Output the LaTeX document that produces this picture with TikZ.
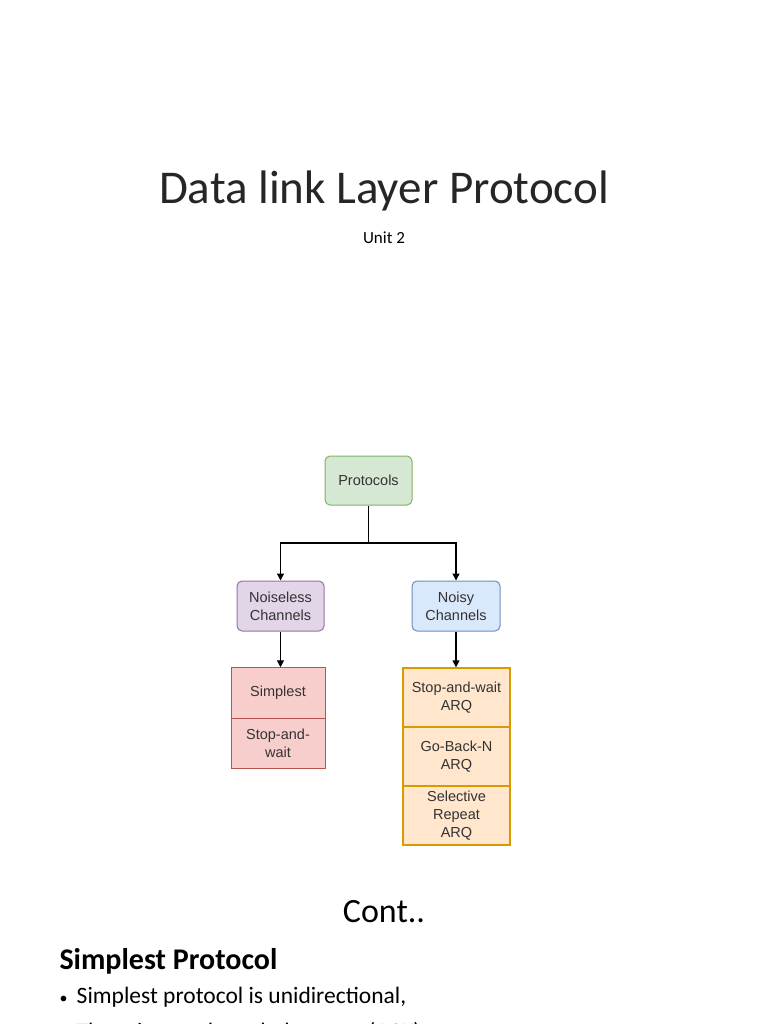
\documentclass[tikz,border=0pt]{standalone}
\usepackage{fontspec}
\setmainfont{Carlito}
\newfontfamily\arialf{Liberation Sans}
\usetikzlibrary{arrows.meta}
\begin{document}
\begin{tikzpicture}[x=1pt,y=-1pt,
  box/.style={draw, line width=1pt, align=center, font=\arialf\fontsize{14.5}{18}\selectfont, text=black!80, inner sep=0pt},
  rbox/.style={box, rounded corners=5pt},
  conn/.style={line width=1.3pt, -{Triangle[length=7pt,width=7pt]}}]
\useasboundingbox (0,0) rectangle (768,1024);
\fill[white] (0,0) rectangle (768,1024);
\node[font=\fontsize{47}{54}\selectfont, text=black!85] (title) at (384,191) {Data link Layer Protocol};
\node[font=\fontsize{17}{20}\selectfont] (unit) at (384,238) {Unit 2};
\node[rbox, fill={rgb,255:red,213;green,232;blue,212}, draw={rgb,255:red,130;green,179;blue,102}, minimum width=87pt, minimum height=49pt] (prot) at (368.5,480.5) {Protocols};
\node[rbox, fill={rgb,255:red,225;green,213;blue,231}, draw={rgb,255:red,150;green,115;blue,166}, minimum width=87pt, minimum height=50pt] (nl) at (280.5,606) {Noiseless\\Channels};
\node[rbox, fill={rgb,255:red,218;green,232;blue,252}, draw={rgb,255:red,108;green,142;blue,191}, minimum width=88pt, minimum height=50pt] (ny) at (456,606) {Noisy\\Channels};
\tikzset{red/.style={box, fill={rgb,255:red,248;green,206;blue,204}, draw={rgb,255:red,184;green,84;blue,80}, minimum width=94pt, minimum height=50.5pt},
 org/.style={box, fill={rgb,255:red,255;green,230;blue,204}, draw={rgb,255:red,215;green,155;blue,0}, line width=1.3pt, minimum width=107pt, minimum height=59pt}}
\node[red] (s1) at (278,693) {Simplest};
\node[red] (s2) at (278,743.5) {Stop-and-\\wait};
\node[org] (o1) at (456.5,697.5) {Stop-and-wait\\ARQ};
\node[org] (o2) at (456.5,756.5) {Go-Back-N\\ARQ};
\node[org] (o3) at (456.5,815.5) {Selective\\Repeat\\ARQ};
\coordinate (j) at (368.5,543);
\draw[line width=1.3pt] (prot.south) -- (j);
\draw[conn] (j) -| (nl.north);
\draw[conn] (j) -| (ny.north);
\draw[conn] (nl.south) -- (nl.south |- s1.north);
\draw[conn] (ny.south) -- (ny.south |- o1.north);
\node[font=\fontsize{34}{40}\selectfont] (cont) at (384,912) {Cont..};
\node[anchor=west, font=\bfseries\fontsize{30}{34}\selectfont] (sp) at (56,961) {Simplest Protocol};
\node[anchor=west, font=\fontsize{23.5}{28}\selectfont] (b1) at (56,997) {{\fontsize{16}{20}\selectfont•}\, Simplest protocol is unidirectional,};
\node[anchor=west, font=\fontsize{23.5}{28}\selectfont] (b2) at (56,1033) {{\fontsize{16}{20}\selectfont•}\, There is no acknowledgement (ACK),};
\end{tikzpicture}
\end{document}
